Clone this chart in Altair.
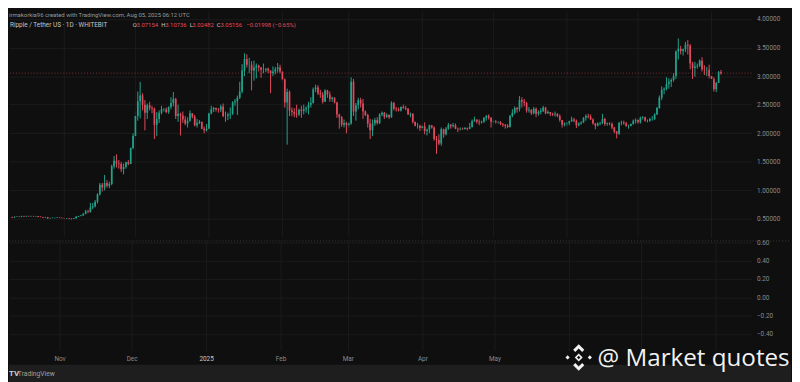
import altair as alt
import pandas as pd

# ---------------- data (close, high, low) per day; open = previous close ----------------
first_open = 0.532
oct_2024 = [(0.527,0.540,0.520),(0.537,0.542,0.524),(0.541,0.546,0.534),(0.537,0.545,0.530),(0.547,0.556,0.530),
            (0.544,0.556,0.535),(0.550,0.556,0.540),(0.546,0.555,0.540),(0.551,0.557,0.541),(0.545,0.554,0.540),
            (0.549,0.553,0.540),(0.540,0.551,0.530),(0.534,0.545,0.528),(0.525,0.537,0.515),(0.530,0.536,0.520),
            (0.510,0.535,0.500),(0.515,0.521,0.505),(0.520,0.526,0.511),(0.520,0.526,0.510),(0.523,0.530,0.515),
            (0.520,0.530,0.515),(0.516,0.525,0.508)]
nov_2024 = [(0.510,0.520,0.500),(0.510,0.516,0.500),(0.505,0.512,0.495),(0.500,0.510,0.490),(0.510,0.516,0.498),
            (0.540,0.550,0.505),(0.550,0.556,0.535),(0.560,0.570,0.545),(0.590,0.600,0.555),(0.630,0.660,0.580),
            (0.620,0.660,0.600),(0.700,0.780,0.610),(0.720,0.780,0.670),(0.800,0.830,0.700),(0.930,0.950,0.770),
            (1.100,1.130,0.910),(1.050,1.130,0.980),(1.130,1.270,1.000),(1.080,1.180,1.050),(1.110,1.150,1.040),
            (1.420,1.450,1.090),(1.520,1.600,1.380),(1.470,1.630,1.400),(1.460,1.530,1.380),(1.370,1.500,1.320),
            (1.410,1.470,1.280),(1.490,1.500,1.380),(1.460,1.530,1.440),(1.740,1.750,1.460),(1.950,2.000,1.720)]
dec_2024 = [(2.300,2.380,1.900),(2.560,2.730,2.220),(2.660,2.900,2.260),(2.500,2.700,2.400),(2.360,2.580,2.050),
            (2.490,2.520,2.250),(2.440,2.550,2.400),(2.430,2.480,2.350),(2.150,2.450,1.900),(2.250,2.370,1.950),
            (2.360,2.400,2.180),(2.420,2.480,2.330),(2.420,2.440,2.380),(2.370,2.450,2.350),(2.460,2.470,2.340),
            (2.530,2.630,2.420),(2.600,2.720,2.470),(2.300,2.620,2.250),(2.340,2.500,2.200),(2.310,2.360,1.960),
            (2.240,2.380,2.180),(2.170,2.300,2.140),(2.220,2.280,2.100),(2.350,2.400,2.200),(2.290,2.350,2.260),
            (2.140,2.320,2.120),(2.180,2.250,2.100),(2.200,2.230,2.160),(2.080,2.200,2.070),(2.050,2.120,2.000),
            (2.080,2.160,2.030)]
jan_2025 = [(2.350,2.360,2.070),(2.420,2.480,2.330),(2.440,2.460,2.370),(2.420,2.450,2.380),(2.410,2.440,2.360),
            (2.470,2.500,2.370),(2.300,2.520,2.280),(2.300,2.380,2.200),(2.330,2.360,2.230),(2.340,2.450,2.250),
            (2.540,2.560,2.320),(2.560,2.600,2.480),(2.620,2.660,2.320),(2.730,2.900,2.600),(3.100,3.210,2.700),
            (3.300,3.400,3.000),(3.200,3.380,3.150),(3.200,3.320,3.050),(3.100,3.260,2.750),(3.150,3.270,2.920),
            (3.180,3.220,2.960),(3.150,3.200,3.080),(3.110,3.160,2.970),(3.110,3.220,3.050),(3.130,3.140,3.070),
            (3.100,3.150,3.050),(3.050,3.100,2.700),(3.080,3.170,3.000),(3.120,3.160,3.030),(3.150,3.230,3.060),
            (3.080,3.200,3.050)]
feb_2025 = [(2.940,3.100,2.900),(2.540,2.960,2.450),(2.720,2.780,1.800),(2.400,2.750,2.300),(2.370,2.450,2.300),
            (2.340,2.440,2.280),(2.330,2.500,2.270),(2.410,2.430,2.300),(2.390,2.480,2.270),(2.420,2.500,2.330),
            (2.440,2.470,2.360),(2.500,2.550,2.330),(2.530,2.630,2.450),(2.770,2.800,2.520),(2.800,2.850,2.720),
            (2.700,2.840,2.670),(2.680,2.760,2.620),(2.550,2.720,2.520),(2.750,2.770,2.550),(2.680,2.760,2.620),
            (2.600,2.730,2.550),(2.620,2.640,2.550),(2.540,2.630,2.520),(2.330,2.550,2.270),(2.280,2.340,2.080),
            (2.150,2.300,2.110),(2.180,2.240,2.100),(2.140,2.200,2.000)]
mar_2025 = [(2.170,2.200,2.100),(2.900,2.980,2.150),(2.380,2.950,2.300),(2.490,2.530,2.220),(2.580,2.620,2.420),
            (2.520,2.620,2.450),(2.380,2.600,2.250),(2.320,2.400,2.300),(2.170,2.340,2.100),(2.050,2.250,1.900),
            (2.170,2.240,1.950),(2.230,2.270,2.130),(2.180,2.280,2.150),(2.330,2.350,2.160),(2.360,2.380,2.300),
            (2.290,2.370,2.250),(2.320,2.350,2.270),(2.280,2.330,2.250),(2.530,2.560,2.270),(2.430,2.550,2.400),
            (2.420,2.460,2.380),(2.400,2.450,2.380),(2.460,2.470,2.380),(2.440,2.500,2.430),(2.430,2.480,2.400),
            (2.330,2.440,2.320),(2.340,2.360,2.280),(2.200,2.350,2.170),(2.130,2.200,2.120),(2.130,2.180,2.080),
            (2.090,2.150,2.040)]
apr_2025 = [(2.120,2.150,2.060),(2.040,2.190,1.980),(2.060,2.080,1.960),(2.140,2.150,2.000),(2.100,2.140,2.080),
            (1.900,2.120,1.870),(1.880,1.950,1.640),(1.820,1.980,1.790),(2.070,2.100,1.780),(1.980,2.080,1.920),
            (2.080,2.110,1.960),(2.150,2.180,2.060),(2.120,2.160,2.080),(2.140,2.180,2.100),(2.080,2.170,2.070),
            (2.070,2.100,2.020),(2.080,2.100,2.050),(2.070,2.100,2.060),(2.090,2.110,2.070),(2.080,2.100,2.050),
            (2.110,2.180,2.070),(2.210,2.240,2.100),(2.240,2.290,2.200),(2.200,2.240,2.170),(2.190,2.240,2.140),
            (2.200,2.220,2.170),(2.270,2.280,2.180),(2.300,2.320,2.220),(2.270,2.330,2.240),(2.200,2.280,2.100)]
may_2025 = [(2.210,2.240,2.160),(2.200,2.230,2.170),(2.200,2.210,2.170),(2.160,2.210,2.140),(2.150,2.180,2.110),
            (2.130,2.160,2.080),(2.110,2.160,2.090),(2.300,2.320,2.100),(2.360,2.420,2.280),(2.440,2.470,2.330),
            (2.420,2.460,2.360),(2.580,2.650,2.380),(2.550,2.630,2.450),(2.530,2.600,2.470),(2.400,2.550,2.360),
            (2.410,2.460,2.360),(2.350,2.420,2.320),(2.430,2.460,2.330),(2.340,2.450,2.280),(2.370,2.400,2.310),
            (2.390,2.440,2.330),(2.450,2.480,2.370),(2.350,2.460,2.330),(2.370,2.400,2.340),(2.340,2.370,2.300),
            (2.330,2.360,2.300),(2.340,2.380,2.290),(2.300,2.350,2.280),(2.230,2.330,2.200),(2.150,2.230,2.100),
            (2.170,2.190,2.120)]
jun_2025 = [(2.180,2.200,2.120),(2.210,2.220,2.140),(2.240,2.290,2.200),(2.220,2.270,2.190),(2.140,2.240,2.090),
            (2.170,2.190,2.120),(2.190,2.210,2.150),(2.270,2.280,2.180),(2.300,2.330,2.220),(2.290,2.340,2.260),
            (2.240,2.330,2.230),(2.170,2.260,2.150),(2.130,2.180,2.070),(2.170,2.190,2.120),(2.180,2.200,2.140),
            (2.250,2.340,2.160),(2.160,2.270,2.130),(2.170,2.190,2.130),(2.160,2.190,2.140),(2.100,2.190,2.070),
            (2.030,2.110,2.000),(1.990,2.040,1.910),(2.180,2.200,1.970),(2.190,2.220,2.140),(2.170,2.220,2.150),
            (2.130,2.200,2.110),(2.130,2.150,2.080),(2.160,2.170,2.120),(2.220,2.240,2.150),(2.230,2.260,2.170)]
jul_2025 = [(2.190,2.250,2.160),(2.270,2.290,2.170),(2.280,2.300,2.240),(2.220,2.290,2.200),(2.220,2.240,2.190),
            (2.250,2.270,2.200),(2.250,2.300,2.220),(2.330,2.350,2.230),(2.440,2.460,2.320),(2.620,2.660,2.430),
            (2.760,2.820,2.580),(2.780,2.800,2.680),(2.860,2.980,2.750),(2.900,2.960,2.780),(2.930,2.960,2.810),
            (3.000,3.050,2.900),(3.430,3.450,2.950),(3.480,3.660,3.290),(3.440,3.530,3.380),(3.470,3.480,3.360),
            (3.550,3.600,3.420),(3.530,3.630,3.380),(3.220,3.560,3.120),(3.140,3.250,2.950),(3.170,3.250,2.990),
            (3.180,3.220,3.130),(3.270,3.290,3.160),(3.120,3.330,3.080),(3.110,3.190,3.020),(3.110,3.160,3.000),
            (3.000,3.200,2.960)]
aug_2025 = [(2.950,3.030,2.820),(2.770,2.980,2.730),(2.880,2.900,2.720),(3.0715,3.090,2.880),(3.05156,3.10736,3.02482)]

months_data = [("2024-10-10", oct_2024), ("2024-11-01", nov_2024), ("2024-12-01", dec_2024),
               ("2025-01-01", jan_2025), ("2025-02-01", feb_2025), ("2025-03-01", mar_2025),
               ("2025-04-01", apr_2025), ("2025-05-01", may_2025), ("2025-06-01", jun_2025),
               ("2025-07-01", jul_2025), ("2025-08-01", aug_2025)]

# month gridlines (all) and the month labels the reference shows (Jun-Aug are under the watermark)
month_starts = ["2024-11-01", "2024-12-01", "2025-01-01", "2025-02-01", "2025-03-01",
                "2025-04-01", "2025-05-01", "2025-06-01", "2025-07-01", "2025-08-01"]
label_starts = ["2024-11-01", "2024-12-01", "2025-01-01", "2025-02-01", "2025-03-01",
                "2025-04-01", "2025-05-01"]
month_labels = ["Nov", "Dec", "2025", "Feb", "Mar", "Apr", "May"]
price_ticks = [0.5, 1.0, 1.5, 2.0, 2.5, 3.0, 3.5, 4.0]
lower_ticks = [0.6, 0.4, 0.2, 0.0, -0.2, -0.4]
last_price = 3.05156

header_line1 = "irmakorkia96 created with TradingView.com, Aug 05, 2025 06:12 UTC"
symbol_text = "Ripple / Tether US · 1D · WHITEBIT"
ohlc_letters = ["O", "H", "L", "C"]
ohlc_values = ["3.07154", "3.10736", "3.02482", "3.05156"]
change_text = "−0.01998 (−0.65%)"
watermark_text = "@ Market quotes"

# ---------------- build table ----------------
rows = []
prev = first_open
for start, lst in months_data:
    ds = pd.date_range(start, periods=len(lst), freq="D")
    for d, (c, h, l) in zip(ds, lst):
        rows.append({"date": d.strftime("%Y-%m-%d"), "open": prev, "close": c,
                     "high": max(h, prev, c), "low": min(l, prev, c)})
        prev = c
df = pd.DataFrame(rows)
grid_df = pd.DataFrame({"m": month_starts})
labels_df = pd.DataFrame({"m": label_starts, "label": month_labels})

# ---------------- style ----------------
BG = "#0f0f0f"
STRIP = "#1e1e1e"
GRID = "#1b1b1b"
LABEL = "#8b8b8b"
UP = "#1fa38b"
DOWN = "#e04a5c"
FONT = "Roboto"

t0 = int(pd.Timestamp("2024-10-10 18:00", tz="UTC").value // 10**6)
t1 = int(pd.Timestamp("2025-08-15 19:00", tz="UTC").value // 10**6)
x_scale = alt.Scale(type="utc", domain=[t0, t1])
W = 752

color_rule = alt.condition("datum.close >= datum.open", alt.value(UP), alt.value(DOWN))


def txt(s, x, y, color, size, weight="normal", font=FONT):
    return alt.Chart(pd.DataFrame({"t": [s]})).mark_text(
        align="left", baseline="middle", fontSize=size, font=font, color=color, fontWeight=weight
    ).encode(x=alt.value(x), y=alt.value(y), text="t:N")


# ---------------- top (price) pane ----------------
y_top = alt.Scale(domain=[0.175, 4.133], nice=False, zero=False)
y_top_axis = alt.Axis(orient="right", values=price_ticks, format=".5f", labelColor=LABEL,
                      labelFontSize=6.5, labelFont=FONT, domain=False, ticks=False, labelPadding=5,
                      labelOverlap=False, labelBound=False, labelFlush=False,
                      grid=True, gridColor=GRID, title=None)

vgrid_top = alt.Chart(grid_df).mark_rule(color=GRID, strokeWidth=1).encode(
    x=alt.X("m:T", scale=x_scale, axis=None))

wicks = alt.Chart(df).mark_rule(clip=True, strokeWidth=1).encode(
    x=alt.X("date:T", scale=x_scale, axis=None),
    y=alt.Y("low:Q", scale=y_top, axis=y_top_axis),
    y2="high:Q",
    color=color_rule)

bodies = alt.Chart(df).mark_bar(clip=True, size=1.7).encode(
    x=alt.X("date:T", scale=x_scale, axis=None),
    y=alt.Y("open:Q", scale=y_top, axis=y_top_axis),
    y2="close:Q",
    color=color_rule)

price_line = alt.Chart(pd.DataFrame({"p": [last_price]})).mark_rule(
    color=DOWN, strokeDash=[1, 2], opacity=0.55, strokeWidth=1).encode(
    y=alt.Y("p:Q", scale=y_top, axis=y_top_axis))

head = [txt(header_line1, 0, 3.5, "#9a9a9a", 6),
        txt(symbol_text, 1, 13.7, "#c4c4c4", 6.5)]
letter_x = [125.3, 154.3, 183.0, 210.3]
value_x = [129.2, 158.2, 185.6, 214.2]
for lt, lx, vv, vx in zip(ohlc_letters, letter_x, ohlc_values, value_x):
    head.append(txt(lt, lx, 13.7, "#c4c4c4", 6))
    head.append(txt(vv, vx, 13.7, DOWN, 6))
head.append(txt(change_text, 240.3, 13.7, DOWN, 6))

top = alt.layer(wicks, vgrid_top, price_line, bodies, *head).properties(width=W, height=229)

# ---------------- lower (empty indicator) pane ----------------
H2 = 112
y_low = alt.Scale(domain=[-0.587, 0.6216], nice=False, zero=False)
y_low_axis = alt.Axis(orient="right", values=lower_ticks, format=".2f", labelColor=LABEL,
                      labelFontSize=6.5, labelFont=FONT, domain=False, ticks=False, labelPadding=5,
                      labelOverlap=False, labelBound=False, labelFlush=False,
                      grid=True, gridColor=GRID, title=None)

vgrid_low = alt.Chart(grid_df).mark_rule(color=GRID, strokeWidth=1).encode(
    x=alt.X("m:T", scale=x_scale, axis=None))
low_axis_holder = alt.Chart(pd.DataFrame({"v": lower_ticks})).mark_rule(opacity=0).encode(
    y=alt.Y("v:Q", scale=y_low, axis=y_low_axis))

separator = alt.Chart(pd.DataFrame({"a": [0]})).mark_rule(
    color="#3a3a3a", strokeDash=[1, 2], strokeWidth=1).encode(
    x=alt.value(0), x2=alt.value(792), y=alt.value(0.5))

month_text = alt.Chart(labels_df).mark_text(
    baseline="middle", align="center", fontSize=6.5, font=FONT).encode(
    x=alt.X("m:T", scale=x_scale, axis=None),
    y=alt.value(H2 + 8),
    text="label:N",
    color=alt.condition("datum.label == '2025'", alt.value("#c8c8c8"), alt.value(LABEL)))

strip = alt.Chart(pd.DataFrame({"a": [0]})).mark_rect(color=STRIP).encode(
    x=alt.value(0), x2=alt.value(792), y=alt.value(126), y2=alt.value(146))

binance_path = ("M0,-1 L0.42,-0.58 L0.26,-0.42 L0,-0.68 L-0.26,-0.42 L-0.42,-0.58 Z "
                "M0,1 L-0.42,0.58 L-0.26,0.42 L0,0.68 L0.26,0.42 L0.42,0.58 Z "
                "M-1,0 L-0.84,-0.16 L-0.68,0 L-0.84,0.16 Z "
                "M1,0 L0.84,0.16 L0.68,0 L0.84,-0.16 Z "
                "M0,-0.3 L0.3,0 L0,0.3 L-0.3,0 Z M0,-0.13 L-0.13,0 L0,0.13 L0.13,0 Z")
logo = alt.Chart(pd.DataFrame({"a": [0]})).mark_point(
    shape=binance_path, filled=True, color="#f2f2f2", opacity=1, size=720, strokeWidth=0).encode(
    x=alt.value(577), y=alt.value(118.5))

watermark = alt.Chart(pd.DataFrame({"t": [watermark_text]})).mark_text(
    align="left", baseline="alphabetic", fontSize=24.5, font="Open Sans", color="#f2f2f2").encode(
    x=alt.value(596), y=alt.value(127), text="t:N")

tv_logo = txt("TV", 0, 135, "#d0d0d0", 8, weight="bold")
tv_text = txt("TradingView", 9, 135, "#a0a0a0", 6.8)

bottom = alt.layer(low_axis_holder, strip, vgrid_low, separator, month_text,
                   logo, watermark, tv_logo, tv_text).properties(width=W, height=H2)

chart = alt.vconcat(top, bottom, spacing=1).properties(
    background=BG, padding=0
).configure_view(stroke=None)

chart.save("out.html", embed_options={"renderer": "svg", "actions": False})
